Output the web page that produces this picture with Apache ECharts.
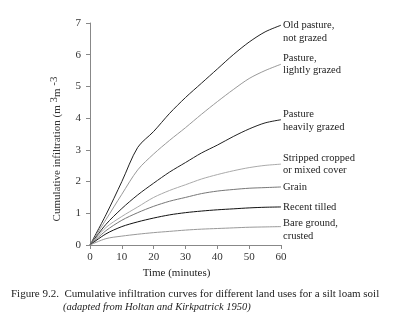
<!DOCTYPE html>
<html><head><meta charset="utf-8">
<script src="https://cdn.jsdelivr.net/npm/echarts@6/dist/echarts.min.js"></script>
<style>html,body{margin:0;padding:0;background:#fff;}#c{width:400px;height:321px;}</style>
</head><body><div id="c"></div>
<script>
var times = [0, 5, 10, 15, 20, 25, 30, 35, 40, 45, 50, 55, 60];
var oldPasture   = [0, 0.95, 2.0, 3.08, 3.58, 4.15, 4.65, 5.1, 5.55, 6.0, 6.4, 6.72, 6.93];
var lightGrazed  = [0, 0.8, 1.6, 2.37, 2.87, 3.3, 3.7, 4.12, 4.52, 4.9, 5.25, 5.5, 5.7];
var heavyGrazed  = [0, 0.65, 1.15, 1.58, 1.95, 2.3, 2.6, 2.9, 3.15, 3.42, 3.66, 3.85, 3.95];
var stripped     = [0, 0.55, 0.9, 1.2, 1.5, 1.72, 1.9, 2.08, 2.22, 2.34, 2.44, 2.51, 2.55];
var grain        = [0, 0.45, 0.78, 1.02, 1.22, 1.38, 1.5, 1.62, 1.7, 1.75, 1.79, 1.81, 1.83];
var recentTilled = [0, 0.35, 0.58, 0.73, 0.85, 0.95, 1.02, 1.07, 1.11, 1.14, 1.17, 1.19, 1.2];
var bareGround   = [0, 0.2, 0.28, 0.34, 0.39, 0.43, 0.47, 0.5, 0.52, 0.54, 0.56, 0.57, 0.58];
var seriesNames = ['Old pasture,\nnot grazed', 'Pasture,\nlightly grazed', 'Pasture\nheavily grazed',
  'Stripped cropped\nor mixed cover', 'Grain', 'Recent tilled', 'Bare ground,\ncrusted'];
var xTicks = [0, 10, 20, 30, 40, 50, 60];
var yTicks = [0, 1, 2, 3, 4, 5, 6, 7];

var allValues = [oldPasture, lightGrazed, heavyGrazed, stripped, grain, recentTilled, bareGround];
var colors = ['#222', '#999', '#222', '#aaa', '#777', '#111', '#999'];
var labelOffsets = [[0, 6.5], [0, 0], [0, 1], [0, 0], [0, 0], [0, 0], [0, 3]];
var serif = '"Liberation Serif", "DejaVu Serif", serif';

var series = allValues.map(function (vals, i) {
  return {
    type: 'line', name: seriesNames[i],
    data: times.map(function (t, j) { return [t, vals[j]]; }),
    smooth: 0.3, symbol: 'none',
    lineStyle: { color: colors[i], width: 1 },
    endLabel: {
      show: true, formatter: seriesNames[i], fontFamily: serif, fontSize: 10.5,
      color: '#222', lineHeight: 12.5, distance: 2, offset: labelOffsets[i]
    },
    emphasis: { disabled: true }
  };
});

var chart = echarts.init(document.getElementById('c'), null, { renderer: 'canvas' });
chart.setOption({
  animation: false,
  backgroundColor: '#fff',
  grid: { left: 90, right: 119, top: 23, bottom: 76 },
  xAxis: {
    type: 'value', min: xTicks[0], max: xTicks[xTicks.length - 1], interval: 10,
    name: 'Time (minutes)', nameLocation: 'middle', nameGap: 22,
    nameTextStyle: { fontFamily: serif, fontSize: 11, color: '#222', padding: [0, 18, 0, 0] },
    axisLine: { lineStyle: { color: '#888' } },
    axisTick: { show: true, length: 4, lineStyle: { color: '#888' } },
    axisLabel: { fontFamily: serif, fontSize: 11, color: '#333', margin: 7 },
    splitLine: { show: false }
  },
  yAxis: {
    type: 'value', min: yTicks[0], max: yTicks[yTicks.length - 1], interval: 1,
    axisLine: { show: true, lineStyle: { color: '#888' } },
    axisTick: { show: true, length: 4, lineStyle: { color: '#888' } },
    axisLabel: { fontFamily: serif, fontSize: 11, color: '#333', margin: 9 },
    splitLine: { show: false }
  },
  graphic: [
    {
      type: 'text', x: 57, y: 149, rotation: Math.PI / 2,
      style: {
        text: 'Cumulative infiltration (m {sup|3}m {sup|-3}',
        fontFamily: serif, fontSize: 11, fill: '#333', align: 'center', verticalAlign: 'middle',
        rich: { sup: { fontFamily: serif, fontSize: 11, fill: '#333', verticalAlign: 'bottom', padding: [0, 0, 5, 0] } }
      }
    },
    {
      type: 'text', x: 11, y: 294,
      style: { text: 'Figure 9.2.  Cumulative infiltration curves for different land uses for a silt loam soil',
        fontFamily: serif, fontSize: 11, fill: '#222', verticalAlign: 'middle' }
    },
    {
      type: 'text', x: 63, y: 307.5,
      style: { text: '(adapted from Holtan and Kirkpatrick 1950)',
        fontFamily: serif, fontSize: 10.5, fontStyle: 'italic', fill: '#222', verticalAlign: 'middle' }
    }
  ],
  series: series
});
</script></body></html>
